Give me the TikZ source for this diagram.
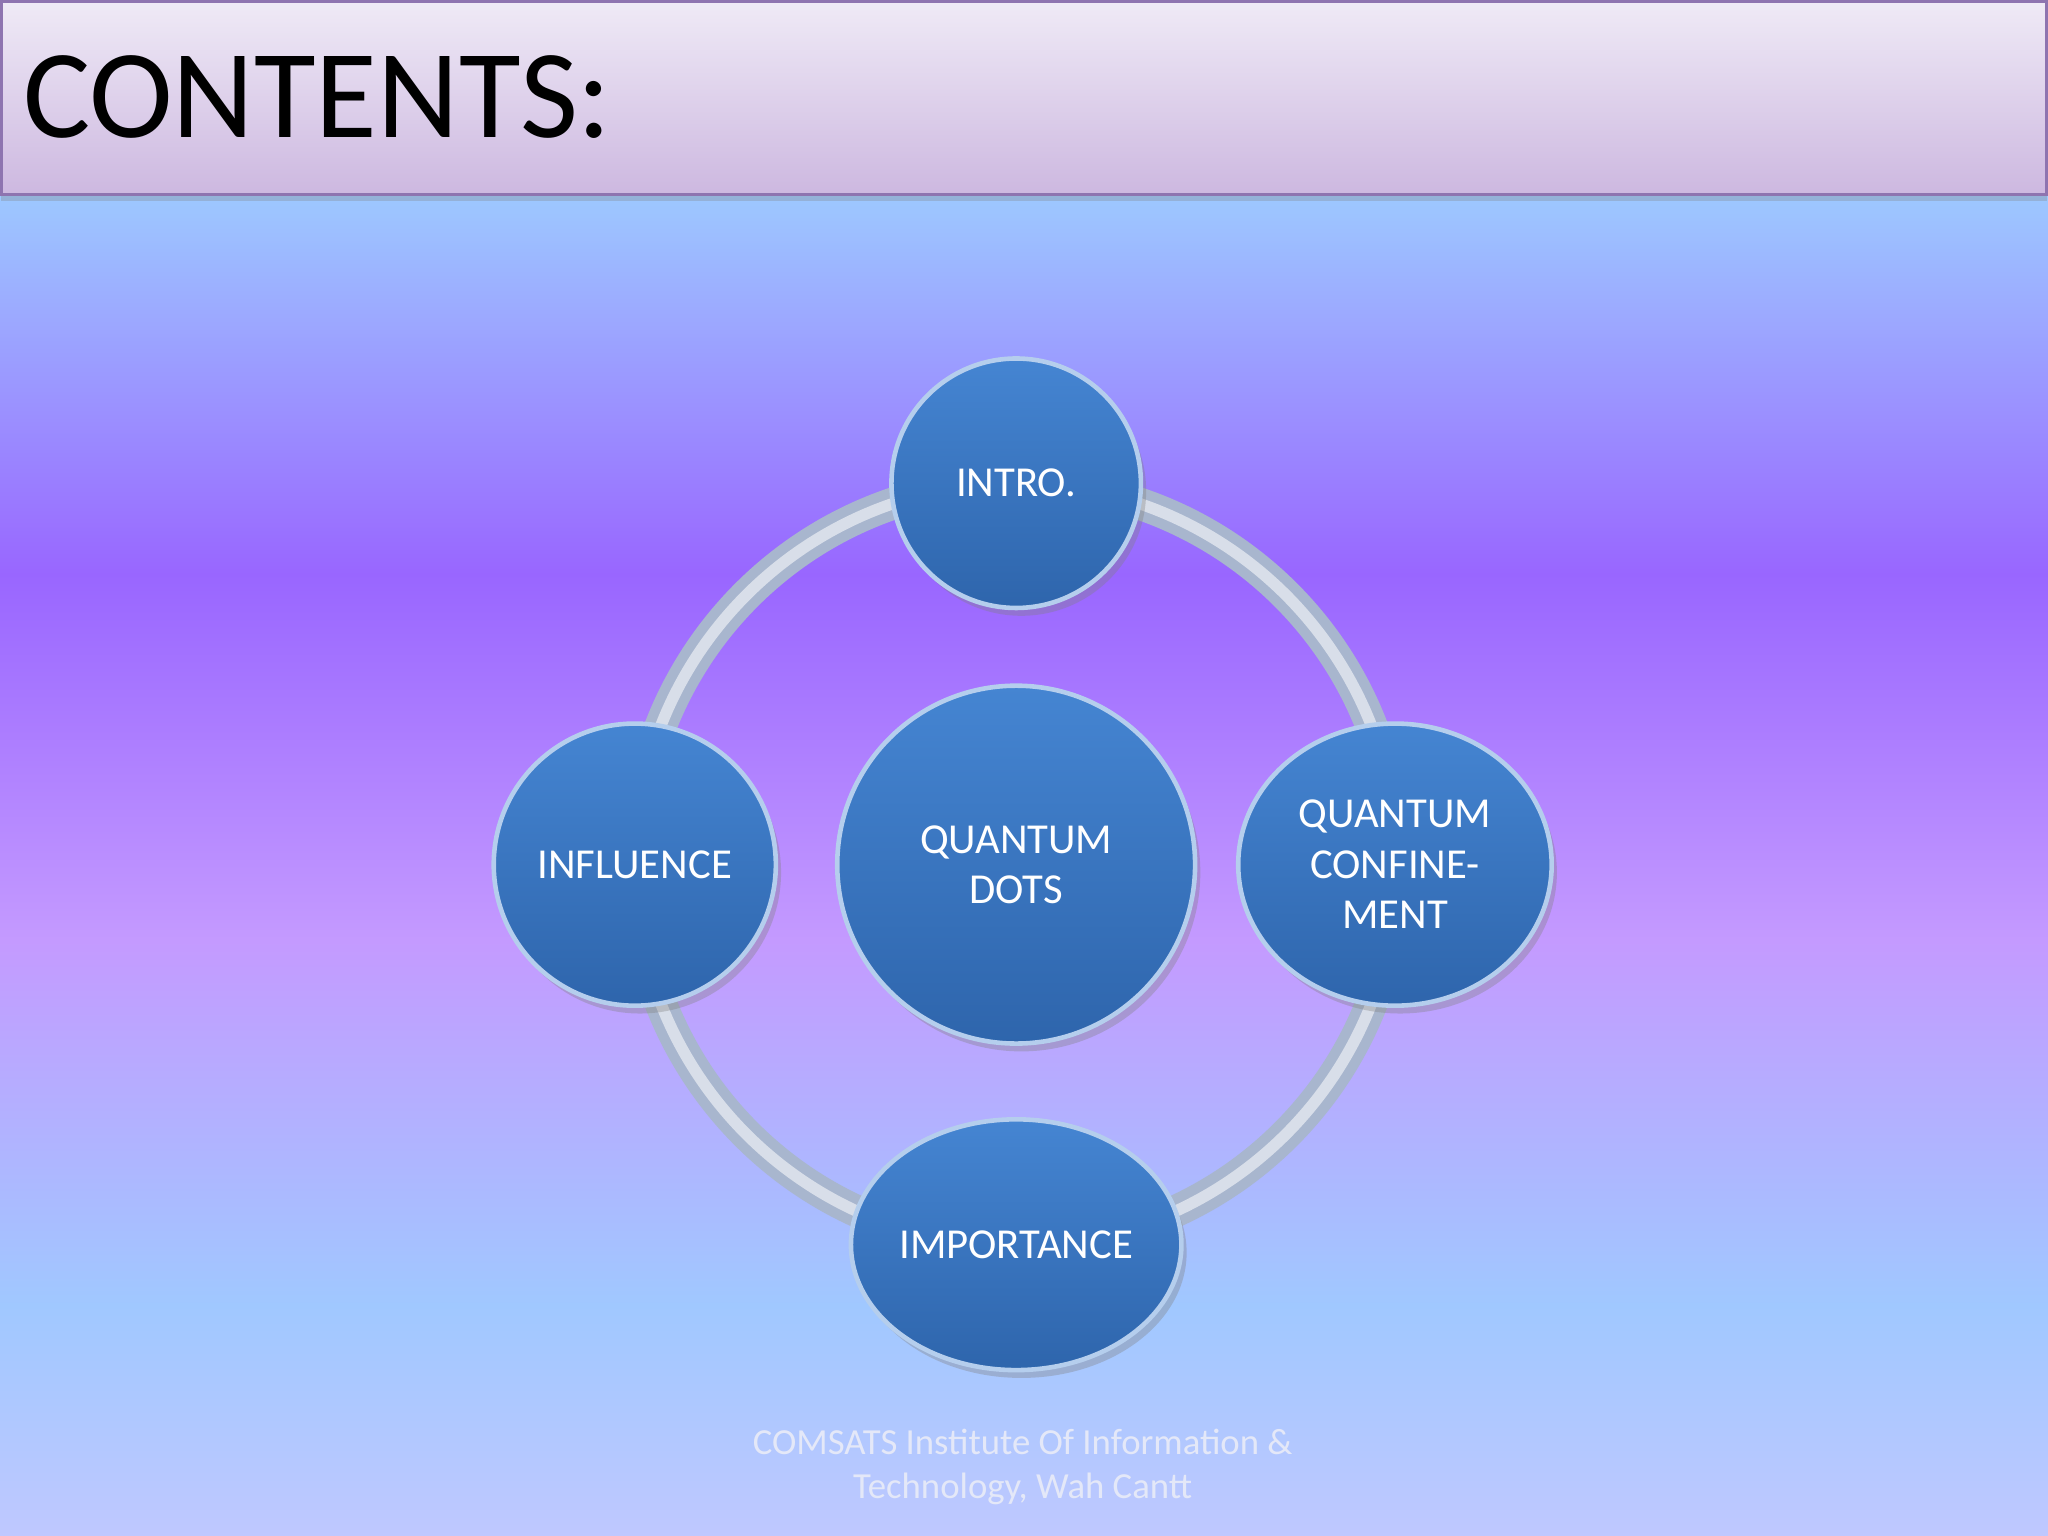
\documentclass[tikz,border=0pt]{standalone}
\usepackage{fontspec}
\setmainfont{Carlito}
\usetikzlibrary{shadows,shapes.geometric}
\definecolor{bgA}{HTML}{9DC8FF}
\definecolor{bgB}{HTML}{9966FF}
\definecolor{bgC}{HTML}{C49AFF}
\definecolor{bgD}{HTML}{A0C8FF}
\definecolor{bgE}{HTML}{BFC8FF}
\definecolor{ballT}{HTML}{4585D2}
\definecolor{ballB}{HTML}{2E65AC}
\definecolor{ringC}{HTML}{A8B6CE}
\definecolor{hdT}{HTML}{EFEAF6}
\definecolor{hdB}{HTML}{CDB8E0}
\definecolor{hdL}{HTML}{8E74B0}
\definecolor{footC}{HTML}{E4E8F8}
\tikzset{
  ball/.style={ellipse, draw=white!60!ballT, line width=1pt, top color=ballT, bottom color=ballB,
    text=white, align=center, font=\fontsize{9.3}{11}\selectfont, inner sep=0pt,
    drop shadow={shadow xshift=0.04, shadow yshift=-0.06, opacity=0.35}},
}
\begin{document}
\begin{tikzpicture}[x=1cm,y=1cm]
\useasboundingbox (0,0) rectangle (15.68,11.76);
\shade[top color=bgA, bottom color=bgB] (0,7.36) rectangle (15.68,10.26);
\shade[top color=bgB, bottom color=bgC] (0,4.56) rectangle (15.68,7.37);
\shade[top color=bgC, bottom color=bgD] (0,1.76) rectangle (15.68,4.57);
\shade[top color=bgD, bottom color=bgE] (0,0) rectangle (15.68,1.77);
\shade[top color=hdT, bottom color=hdB, draw=hdL, line width=0.8pt,
  drop shadow={shadow xshift=0, shadow yshift=-0.05, opacity=0.3}] (0.01,10.27) rectangle (15.67,11.75);
\node[anchor=base west, font=\fontsize{27.5}{32}\selectfont, inner sep=0] (title) at (0.17,10.71) {CONTENTS:};
\draw[line width=7pt, color=ringC] (7.78,5.14) circle (2.92);
\draw[line width=2.5pt, color=white!55!ringC] (7.78,5.14) circle (2.92);
\node[ball, minimum width=2.74cm, minimum height=2.74cm] (qd) at (7.78,5.14) {QUANTUM\\DOTS};
\node[ball, minimum width=1.91cm, minimum height=1.91cm] (intro) at (7.78,8.06) {INTRO.};
\node[ball, minimum width=2.16cm, minimum height=2.16cm] (infl) at (4.86,5.14) {INFLUENCE};
\node[ball, minimum width=2.40cm, minimum height=2.16cm] (qc) at (10.68,5.14) {QUANTUM\\CONFINE-\\MENT};
\node[ball, minimum width=2.44cm, minimum height=1.92cm] (imp) at (7.78,2.23) {IMPORTANCE};
\node[text=footC, align=center, font=\fontsize{8}{9.5}\selectfont] (foot) at (7.83,0.53) {COMSATS Institute Of Information \&\\Technology, Wah Cantt};
\end{tikzpicture}
\end{document}
